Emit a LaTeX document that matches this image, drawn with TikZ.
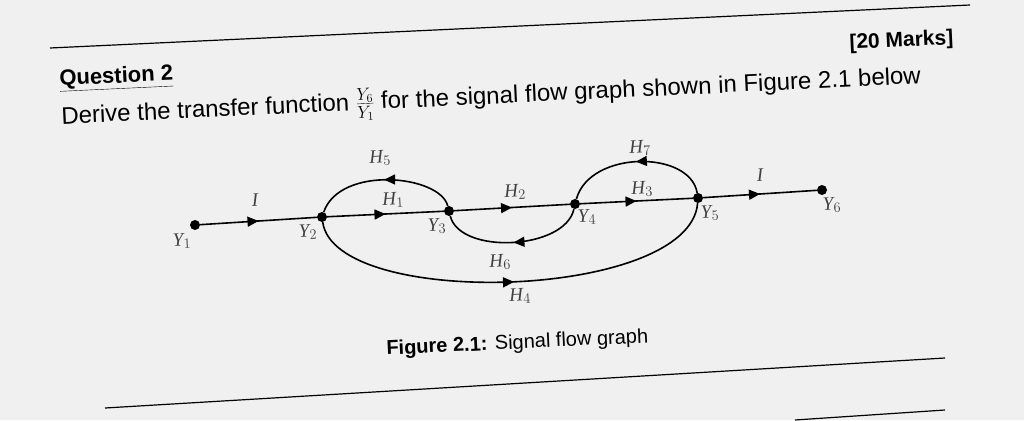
\documentclass[tikz,border=0pt]{standalone}
\usepackage{fontspec}
\setmainfont{Liberation Sans}
\newfontfamily\gfont{Liberation Serif}
\usetikzlibrary{decorations.markings,arrows.meta}
\begin{document}
\begin{tikzpicture}[x=1pt,y=-1pt,
  dot/.style={circle,fill=black,inner sep=0pt,minimum size=10pt},
  lab/.style={font=\gfont\itshape\fontsize{19}{21}\selectfont,rotate=3,text=black!75},
  ed/.style={line width=1.6pt,postaction={decorate},decoration={markings,mark=at position #1 with {\arrow{Triangle[length=11pt,width=10pt]}}}},
  ed/.default=0.5,
  tx/.style={rotate=2.7,font=\fontsize{24}{26}\selectfont,anchor=west}]
\fill[gray!12] (0,0) rectangle (1024,420);
\useasboundingbox (0,0) rectangle (1024,420);
\draw[line width=1.2pt] (50,48) -- (970,5);
\node[tx,font=\fontsize{21}{24}\selectfont\bfseries] (mk) at (846,44) {[20 Marks]};
\node[tx,font=\fontsize{22}{24}\selectfont\bfseries] (q) at (56,81) {\underline{Question 2}};
\node[tx] (d) at (58,119) {Derive the transfer function $\frac{Y_6}{Y_1}$ for the signal flow graph shown in Figure 2.1 below};
\node[dot] (y1) at (195,225) {};
\node[dot] (y2) at (322,217) {};
\node[dot] (y3) at (449,211) {};
\node[dot] (y4) at (575,204) {};
\node[dot] (y5) at (698,198) {};
\node[dot] (y6) at (822,190) {};
\draw[ed] (y1) -- (y2);
\draw[ed] (y2) -- (y3);
\draw[ed] (y3) -- (y4);
\draw[ed] (y4) -- (y5);
\draw[ed] (y5) -- (y6);
\draw[ed] (y3) .. controls (440,175) and (340,165) .. (y2);
\draw[ed] (y5) .. controls (690,150) and (590,150) .. (y4);
\draw[ed] (y4) .. controls (565,250) and (460,255) .. (y3);
\draw[ed] (y2) .. controls (335,310) and (690,300) .. (y5);
\node[lab] (l1) at (255,200) {I};
\node[lab] (l5) at (380,158) {H$_5$};
\node[lab] (l1b) at (393,200) {H$_1$};
\node[lab] (l2) at (515,192) {H$_2$};
\node[lab] (l7) at (640,148) {H$_7$};
\node[lab] (l3) at (642,189) {H$_3$};
\node[lab] (l6) at (760,175) {I};
\node[lab] (l6b) at (500,262) {H$_6$};
\node[lab] (l4) at (520,296) {H$_4$};
\node[lab] (n1) at (182,241) {Y$_1$};
\node[lab] (n2) at (308,232) {Y$_2$};
\node[lab] (n3) at (437,226) {Y$_3$};
\node[lab] (n4) at (587,217) {Y$_4$};
\node[lab] (n5) at (710,213) {Y$_5$};
\node[lab] (n6) at (832,205) {Y$_6$};
\node[tx,font=\fontsize{20}{24}\selectfont] (cap) at (383,350) {\textbf{Figure 2.1:} Signal flow graph};
\draw[line width=1.2pt] (105,408) -- (945,358);
\draw[line width=1.2pt] (795,420) -- (945,410);
\end{tikzpicture}
\end{document}
